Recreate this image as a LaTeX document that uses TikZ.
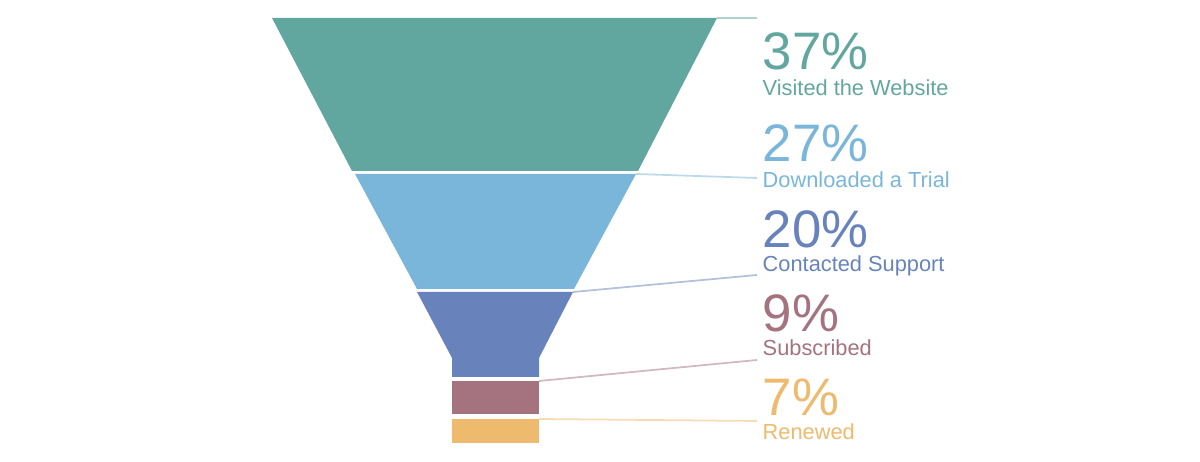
\documentclass[tikz,border=0pt]{standalone}
\usepackage{fontspec}
\setmainfont{Liberation Sans}
\definecolor{cA}{HTML}{62A79F}
\definecolor{cB}{HTML}{79B6D9}
\definecolor{cC}{HTML}{6883BB}
\definecolor{cD}{HTML}{A4737F}
\definecolor{cE}{HTML}{EDBA6E}
\begin{document}
\begin{tikzpicture}[x=0.01cm,y=-0.01cm,
 pct/.style={anchor=base west,inner sep=0,font=\fontsize{15}{15}\selectfont},
 lab/.style={anchor=base west,inner sep=0,font=\fontsize{6.2}{7}\selectfont},
 lead/.style={line width=0.5pt,opacity=0.5}]
\useasboundingbox (0,0) rectangle (1200,462);
\fill[cA] (272,18) -- (717,18) -- (638,171) -- (352,171) -- cycle;
\fill[cB] (355,174) -- (636,174) -- (574,289) -- (417,289) -- cycle;
\fill[cC] (417,292) -- (573,292) -- (539,358) -- (539,377) -- (452,377) -- (452,358) -- cycle;
\fill[cD] (452,381) rectangle (539,414);
\fill[cE] (452,419) rectangle (539,443);
\coordinate (a) at (717,18); \coordinate (b) at (636,174);
\coordinate (c) at (573,292); \coordinate (d) at (539,381); \coordinate (e) at (539,419);
\coordinate (ta) at (757,18); \coordinate (tb) at (757,178); \coordinate (tc) at (757,275);
\coordinate (td) at (757,360); \coordinate (te) at (757,421);
\draw[lead,cA] (a) -- (ta);
\draw[lead,cB] (b) -- (tb);
\draw[lead,cC] (c) -- (tc);
\draw[lead,cD] (d) -- (td);
\draw[lead,cE] (e) -- (te);
\node[pct,cA] (p1) at (762,70) {37\%};
\node[lab,cA] (l1) at (762,96) {Visited the Website};
\node[pct,cB] (p2) at (762,162) {27\%};
\node[lab,cB] (l2) at (762,188) {Downloaded a Trial};
\node[pct,cC] (p3) at (762,248) {20\%};
\node[lab,cC] (l3) at (762,272) {Contacted Support};
\node[pct,cD] (p4) at (762,332) {9\%};
\node[lab,cD] (l4) at (762,356) {Subscribed};
\node[pct,cE] (p5) at (762,416) {7\%};
\node[lab,cE] (l5) at (762,440) {Renewed};
\end{tikzpicture}
\end{document}
